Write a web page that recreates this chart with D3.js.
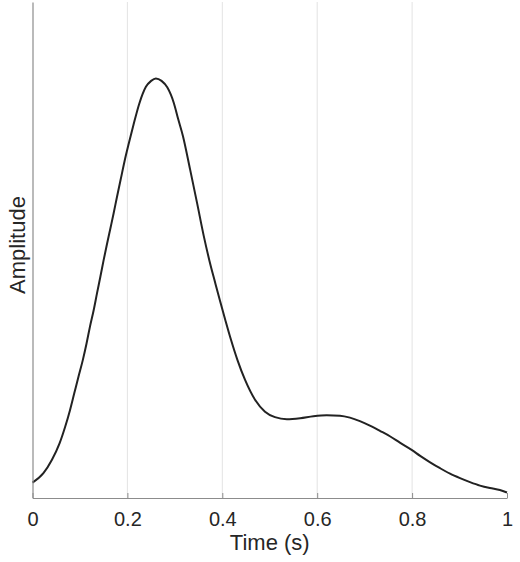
<!DOCTYPE html>
<html>
<head>
<meta charset="utf-8">
<script src="https://cdn.jsdelivr.net/npm/d3@7"></script>
<style>
  html, body { margin: 0; padding: 0; background: #fff; }
  svg { display: block; }
  .axis text { font-family: "Liberation Sans", Arial, sans-serif; font-size: 20px; fill: #262626; }
  .axis-label { font-family: "Liberation Sans", Arial, sans-serif; font-size: 22px; fill: #262626; }
</style>
</head>
<body>
<svg id="chart" width="520" height="562"></svg>
<script>
// Values
const timeValues = [
  0, 0.023, 0.041, 0.057, 0.069, 0.079, 0.088, 0.097, 0.106, 0.114, 0.121, 0.129, 0.136,
  0.143, 0.150, 0.157, 0.164, 0.171, 0.178, 0.186, 0.194, 0.203, 0.213, 0.225, 0.239, 0.250,
  0.260, 0.272, 0.284, 0.298, 0.307, 0.317, 0.332, 0.347, 0.361, 0.373, 0.385, 0.395, 0.406,
  0.418, 0.432, 0.448, 0.469, 0.490, 0.511, 0.536, 0.564, 0.592, 0.620, 0.648, 0.669, 0.690,
  0.711, 0.733, 0.754, 0.775, 0.799, 0.817, 0.838, 0.859, 0.880, 0.901, 0.922, 0.943, 0.964,
  0.985, 1.000];
const amplitudeValues = [
  0.031, 0.050, 0.077, 0.110, 0.144, 0.177, 0.211, 0.245, 0.278, 0.312, 0.345, 0.379, 0.413,
  0.446, 0.480, 0.512, 0.543, 0.574, 0.607, 0.643, 0.679, 0.715, 0.753, 0.795, 0.829, 0.841,
  0.846, 0.841, 0.828, 0.796, 0.764, 0.730, 0.663, 0.594, 0.528, 0.478, 0.434, 0.398, 0.360,
  0.320, 0.278, 0.238, 0.198, 0.174, 0.163, 0.159, 0.161, 0.165, 0.167, 0.166, 0.162, 0.155,
  0.146, 0.135, 0.124, 0.111, 0.097, 0.085, 0.072, 0.060, 0.049, 0.040, 0.032, 0.025, 0.020,
  0.016, 0.011];
const xTicks = [0, 0.2, 0.4, 0.6, 0.8, 1];
const xLabel = 'Time (s)';
const yLabel = 'Amplitude';

const margin = { top: 2, right: 13, bottom: 64, left: 32.5 };
const totalW = 520, totalH = 562;
const width  = totalW - margin.left - margin.right;
const height = totalH - margin.top - margin.bottom;

const points = timeValues.map((t, i) => ({ t, a: amplitudeValues[i] }));

const svg = d3.select('#chart')
  .append('g')
  .attr('transform', `translate(${margin.left},${margin.top})`);

const x = d3.scaleLinear().domain([0, 1]).range([0, width]);
const y = d3.scaleLinear().domain([0, 1]).range([height, 0]);

// Vertical grid lines
svg.selectAll('.grid-line')
  .data(xTicks.slice(1, -1))
  .enter()
  .append('line')
  .attr('class', 'grid-line')
  .attr('x1', d => x(d)).attr('x2', d => x(d))
  .attr('y1', 0).attr('y2', height)
  .attr('stroke', '#e3e3e3')
  .attr('stroke-width', 1);

// Curve
const line = d3.line()
  .x(d => x(d.t))
  .y(d => y(d.a))
  .curve(d3.curveMonotoneX);

svg.append('path')
  .datum(points)
  .attr('fill', 'none')
  .attr('stroke', '#222')
  .attr('stroke-width', 2)
  .attr('d', line);

// X axis, ticks pointing inward
const xAxis = svg.append('g')
  .attr('class', 'axis')
  .attr('transform', `translate(0,${height})`)
  .call(d3.axisBottom(x)
    .tickValues(xTicks)
    .tickFormat(d3.format('~g'))
    .tickSizeInner(-5)
    .tickSizeOuter(0)
    .tickPadding(14));
xAxis.select('.domain').attr('stroke', '#8c8c8c').attr('stroke-width', 1.2);
xAxis.selectAll('.tick line').attr('stroke', '#8c8c8c');
xAxis.selectAll('.tick text').attr('dy', '0.71em');

// Y axis, line only
const yAxis = svg.append('g')
  .attr('class', 'axis')
  .call(d3.axisLeft(y).tickValues([]).tickSizeOuter(0));
yAxis.select('.domain').attr('stroke', '#8c8c8c').attr('stroke-width', 1.2);

// Axis labels
svg.append('text')
  .attr('class', 'axis-label')
  .attr('x', width / 2)
  .attr('y', height + 52)
  .attr('text-anchor', 'middle')
  .text(xLabel);

svg.append('text')
  .attr('class', 'axis-label')
  .attr('transform', `translate(${-8},${height / 2 - 5}) rotate(-90)`)
  .attr('text-anchor', 'middle')
  .text(yLabel);
</script>
</body>
</html>
